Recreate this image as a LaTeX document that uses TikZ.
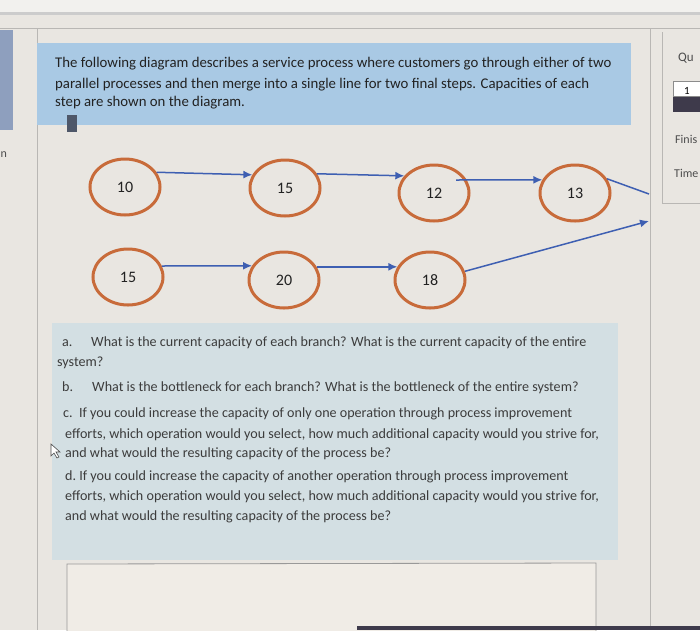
\documentclass[tikz,border=0pt]{standalone}
\usepackage{fontspec}
\setmainfont{Carlito}
\usetikzlibrary{shapes.geometric,arrows.meta,calc}
\definecolor{pagebg}{HTML}{E9E6E1}
\definecolor{topbg}{HTML}{F2F1EE}
\definecolor{hdrblue}{HTML}{A9C9E4}
\definecolor{qbox}{HTML}{D3DFE3}
\definecolor{ansbg}{HTML}{F0ECE6}
\definecolor{sidebar}{HTML}{8E9FBE}
\definecolor{ringc}{HTML}{C86B3A}
\definecolor{arrc}{HTML}{3E5FB2}
\definecolor{txtdark}{HTML}{222222}
\definecolor{txtq}{HTML}{3C3C3C}
\definecolor{darkbar}{HTML}{3E3A4B}
\definecolor{frame}{HTML}{B9B7B4}
\tikzset{
  ring/.style={ellipse,draw=ringc,line width=3pt,minimum width=70pt,minimum height=56pt,
    font=\fontsize{16}{16}\selectfont,text=txtdark,inner sep=0pt},
  flow/.style={draw=arrc,line width=1.5pt,-{Latex[length=9pt,width=8pt]}},
  flowplain/.style={draw=arrc,line width=1.5pt},
  hline/.style={anchor=base west,inner sep=0pt,font=\fontsize{14.8}{18}\selectfont,text=txtdark},
  qline/.style={anchor=base west,inner sep=0pt,font=\fontsize{14.1}{17}\selectfont,text=txtq},
  side/.style={anchor=base west,inner sep=0pt,font=\fontsize{12}{14}\selectfont,text=black!70}
}
\begin{document}
\begin{tikzpicture}[x=1pt,y=-1pt]
\useasboundingbox (0,0) rectangle (700,630);
% backgrounds
\fill[pagebg] (0,0) rectangle (700,630);
\fill[topbg] (0,0) rectangle (700,12);
\fill[black!20] (0,12) rectangle (700,15);
\draw[frame,line width=0.8pt] (0,28) -- (700,28);
\fill[sidebar] (0,30) rectangle (13,130);
\draw[frame,line width=0.8pt] (37,28) -- (37,630);
\draw[frame,line width=0.8pt] (650,28) -- (650,630);
% right side panel
\draw[frame,line width=0.8pt] (662,32) -- (662,203) -- (700,203);
\node[side,font=\fontsize{13}{15}\selectfont] (qu) at (678,61) {Qu};
\node[draw=black!45,fill=white,line width=0.6pt,minimum width=30pt,minimum height=15pt,anchor=north west,inner sep=0pt] (onebox) at (673,81) {};
\node[anchor=base west,inner sep=0pt,font=\fontsize{11}{11}\selectfont] (one) at (684,94) {1};
\fill[darkbar] (673,97) rectangle (700,112);
\node[side] (finis) at (675,143) {Finis};
\node[side] (time) at (674,177) {Time};
\node[side] (on) at (0.5,157) {n};
% header
\fill[hdrblue] (37,43) rectangle (631,125);
\node[hline] (h1) at (55,67) {The following diagram describes a service process where customers go through either of two};
\node[hline] (h2) at (55,88) {parallel processes and then merge into a single line for two final steps. Capacities of each};
\node[hline] (h3) at (55,106) {step are shown on the diagram.};
\fill[black!45!sidebar] (67,115) rectangle (77,132);
% diagram
\node[ring] (a1) at (125,187) {10};
\node[ring] (a2) at (285,188) {15};
\node[ring] (a3) at (434,193) {12};
\node[ring] (a4) at (575,193) {13};
\node[ring] (b1) at (128,277) {15};
\node[ring] (b2) at (284,280) {20};
\node[ring] (b3) at (430,280) {18};
\coordinate (outA) at (649,194);
\coordinate (outB) at (649,221);
\draw[flow] (a1.25) -- (a2.158);
\draw[flow] (a2.24) -- (a3.150);
\draw[flow] ($(a3.center)+(22,-13)$) -- (a4.158);
\draw[flowplain] (a4.24) -- (outA);
\draw[flow] (b1.18) -- (b2.156);
\draw[flow] (b2.22) -- (b3.158);
\draw[flow] (b3.14) -- (outB);
% questions
\fill[qbox] (52,323) rectangle (618,560);
\node[qline] (qa) at (62,346) {a.};
\node[qline] (q1) at (91,346) {What is the current capacity of each branch? What is the current capacity of the entire};
\node[qline] (q2) at (57,366) {system?};
\node[qline] (qb) at (62,391) {b.};
\node[qline] (q3) at (92,391) {What is the bottleneck for each branch? What is the bottleneck of the entire system?};
\node[qline] (q4) at (63,417) {c.\ \ If you could increase the capacity of only one operation through process improvement};
\node[qline] (q5) at (65,438) {efforts, which operation would you select, how much additional capacity would you strive for,};
\node[qline] (q6) at (65,457) {and what would the resulting capacity of the process be?};
\node[qline] (q7) at (65,480) {d.\ If you could increase the capacity of another operation through process improvement};
\node[qline] (q8) at (65,500) {efforts, which operation would you select, how much additional capacity would you strive for,};
\node[qline] (q9) at (65,520) {and what would the resulting capacity of the process be?};
% mouse pointer
\draw[black!70,fill=white,line width=0.6pt] (51,444) -- (51,456) -- (54,453) -- (57,458) -- (59,457) -- (56,452) -- (60,452) -- cycle;
% answer box
\draw[black!40,fill=ansbg,line width=0.8pt] (67,632) -- (67,564) -- (596,563) -- (596,632);
\fill[darkbar] (357,626) rectangle (700,630);
\end{tikzpicture}
\end{document}
